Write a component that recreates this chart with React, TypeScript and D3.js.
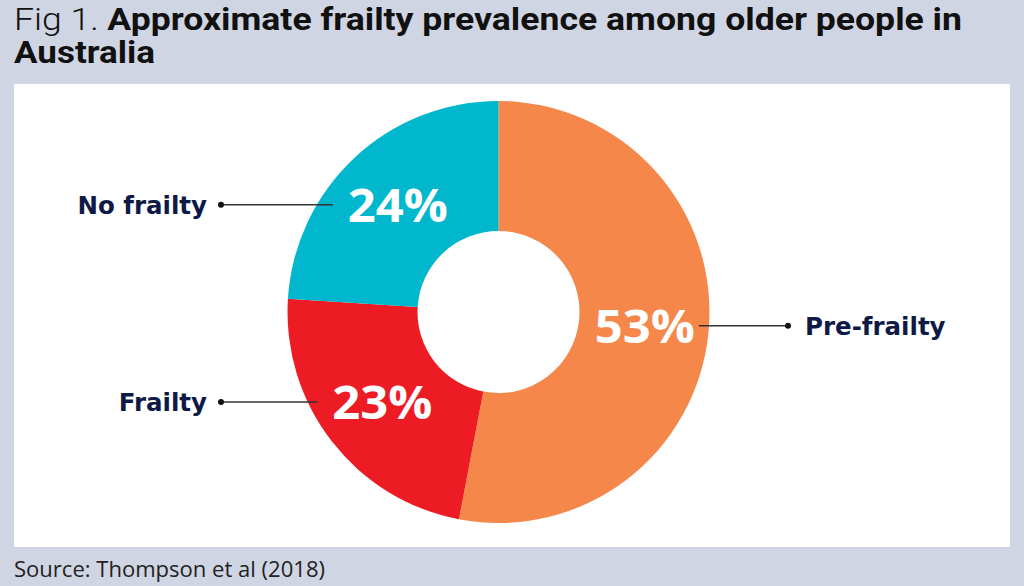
import React from "react";
import * as d3 from "d3";

const categories = ["Pre-frailty", "Frailty", "No frailty"];
const values = [53, 23, 24];
const colors = ["#f5874a", "#ed1c24", "#00b7cd"];
const titlePrefix = "Fig 1.";
const titleLine1 = "Approximate frailty prevalence among older people in";
const titleLine2 = "Australia";
const source = "Source: Thompson et al (2018)";

const W = 1024;
const H = 586;

export default function App() {
  const cx = 498.5;
  const cy = 312;
  const outerR = 211;
  const innerR = 81;
  const labelR = 147;

  const pie = d3.pie<number>().sort(null).value((d) => d);
  const arcs = pie(values);
  const arc = d3.arc<d3.PieArcDatum<number>>().innerRadius(innerR).outerRadius(outerR);
  const labelArc = d3.arc<d3.PieArcDatum<number>>().innerRadius(labelR).outerRadius(labelR);

  const navy = "#0e1a45";
  const labelFont = "'DejaVu Sans', sans-serif";
  const pctSize = 47;
  const pctWidth = 100;

  return (
    <svg width={W} height={H} style={{ position: "absolute", left: 0, top: 0, display: "block" }}>
      <rect x={0} y={0} width={W} height={H} fill="#d0d5e3" />
      <text
        x={14}
        y={30}
        fontFamily="Roboto, sans-serif"
        fontSize={30.5}
        fill="#111"
        textLength={948}
        lengthAdjust="spacingAndGlyphs"
      >
        <tspan fontWeight={300}>{titlePrefix} </tspan>
        <tspan fontWeight={700}>{titleLine1}</tspan>
      </text>
      <text
        x={14}
        y={63}
        fontFamily="Roboto, sans-serif"
        fontSize={30.5}
        fontWeight={700}
        fill="#111"
        textLength={141}
        lengthAdjust="spacingAndGlyphs"
      >
        {titleLine2}
      </text>
      <rect x={14} y={84} width={996} height={463} fill="#ffffff" />
      <g transform={`translate(${cx},${cy})`}>
        {arcs.map((a, i) => (
          <path key={i} d={arc(a) || ""} fill={colors[i]} />
        ))}
      </g>
      {arcs.map((a, i) => {
        const [lx, ly] = labelArc.centroid(a);
        const x = cx + lx;
        const y = cy + ly;
        const right = lx > 0;
        const lineStart = right ? x + pctWidth / 2 + 4 : x - pctWidth / 2 - 15;
        const dotX = right ? 788 : 221;
        return (
          <g key={"c" + i}>
            <line
              x1={Math.min(lineStart, dotX)}
              x2={Math.max(lineStart, dotX)}
              y1={y}
              y2={y}
              stroke="#333"
              strokeWidth={1.5}
            />
            <circle cx={dotX} cy={y} r={3} fill="#111" />
            <text
              x={x - pctWidth / 2}
              y={y}
              dy="0.36em"
              fontFamily="'Open Sans', sans-serif"
              fontWeight={700}
              fontSize={pctSize}
              fill="#fff"
              textLength={pctWidth}
              lengthAdjust="spacingAndGlyphs"
            >
              {values[i]}%
            </text>
            <text
              x={right ? 805 : 207}
              y={y}
              dy="0.36em"
              textAnchor={right ? "start" : "end"}
              fontFamily={labelFont}
              fontWeight={700}
              fontSize={24.5}
              fill={navy}
            >
              {categories[i]}
            </text>
          </g>
        );
      })}
      <text
        x={14}
        y={577}
        fontFamily="'Open Sans', sans-serif"
        fontSize={21}
        fill="#222"
        textLength={311}
        lengthAdjust="spacingAndGlyphs"
      >
        {source}
      </text>
    </svg>
  );
}
